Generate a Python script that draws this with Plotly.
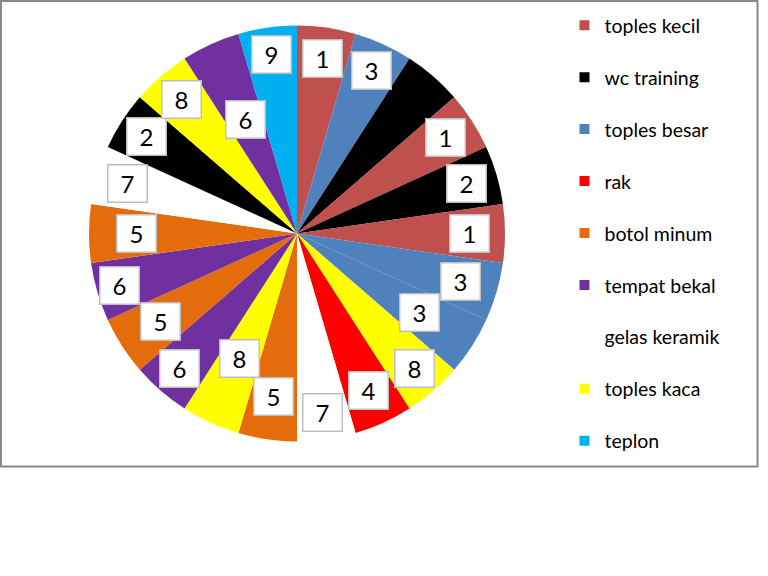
import math
import plotly.graph_objects as go

# ---- data ----
categories = ["toples kecil", "wc training", "toples besar", "rak", "botol minum",
              "tempat bekal", "gelas keramik", "toples kaca", "teplon"]
category_codes = [1, 2, 3, 4, 5, 6, 7, 8, 9]
category_colors = ["#C0504D", "#000000", "#4F81BD", "#FF0000", "#E46C0A",
                   "#7030A0", "#FFFFFF", "#FFFF00", "#00B0F0"]

# slices clockwise from 12 o'clock: category code of each slice
slice_codes = [1, 3, 2, 1, 2, 1, 3, 3, 8, 4, 7, 5, 8, 6, 5, 6, 5, 7, 2, 8, 6, 9]
slice_values = [1] * len(slice_codes)
# which slices show a data label
slice_label_shown = [True, True, False] + [True] * 19

# ---- layout constants ----
W, H = 768, 576
CX, CY = 297, 233.5      # pie centre (px from top-left)
R = 208                  # pie radius (px)
label_rfrac = [0.85, 0.86, 0.85, 0.85, 0.85, 0.83, 0.82, 0.70, 0.86, 0.83, 0.87,
               0.79, 0.66, 0.86, 0.78, 0.89, 0.77, 0.85, 0.86, 0.85, 0.60, 0.87]

code_to_color = dict(zip(category_codes, category_colors))
colors = [code_to_color[c] for c in slice_codes]

fig = go.Figure()
fig.add_trace(go.Pie(
    labels=[f"s{i}" for i in range(len(slice_codes))],
    values=slice_values,
    sort=False, direction="clockwise", rotation=0,
    marker=dict(colors=colors, line=dict(width=0)),
    textinfo="none", hoverinfo="none", showlegend=False,
    domain=dict(x=[(CX - R) / W, (CX + R) / W],
                y=[(H - CY - R) / H, (H - CY + R) / H]),
))

# legend entries
for i, (name, col) in enumerate(zip(categories, category_colors)):
    fig.add_trace(go.Scatter(
        x=[None], y=[None], mode="markers", name=name,
        marker=dict(symbol="square", size=10, color=col),
        legendgroup=f"g{i}", showlegend=True,
    ))

# data labels (boxes) at mid-angle of each slice
total = sum(slice_values)
cum = 0
annotations = []
for i, (code, v) in enumerate(zip(slice_codes, slice_values)):
    mid = (cum + v / 2) / total * 2 * math.pi
    cum += v
    if not slice_label_shown[i]:
        continue
    r = R * label_rfrac[i]
    px = CX + r * math.sin(mid)
    py = CY - r * math.cos(mid)
    annotations.append(dict(
        x=px / W, y=1 - py / H, xref="paper", yref="paper",
        text=str(code), showarrow=False,
        font=dict(family="Lato", size=24, color="#000000"),
        bgcolor="#FFFFFF", bordercolor="#BFBFBF", borderwidth=1.5,
        width=34, height=32, borderpad=2,
        xanchor="center", yanchor="middle",
    ))

fig.update_layout(
    width=W, height=H,
    margin=dict(l=0, r=0, t=0, b=0),
    paper_bgcolor="#FFFFFF", plot_bgcolor="#FFFFFF",
    xaxis=dict(visible=False), yaxis=dict(visible=False),
    annotations=annotations,
    legend=dict(x=0.735, y=1 - 6 / H, xanchor="left", yanchor="top",
                font=dict(family="Lato", size=19.5, color="#000000"),
                tracegroupgap=23.6, bgcolor="rgba(0,0,0,0)", itemclick=False),
    shapes=[dict(type="rect", xref="paper", yref="paper",
                 x0=1 / W, x1=757.5 / W, y0=1 - 466.5 / H, y1=1 - 1 / H,
                 line=dict(color="#888888", width=2))],
    font=dict(family="Lato"),
)

fig.write_html("out.html")
